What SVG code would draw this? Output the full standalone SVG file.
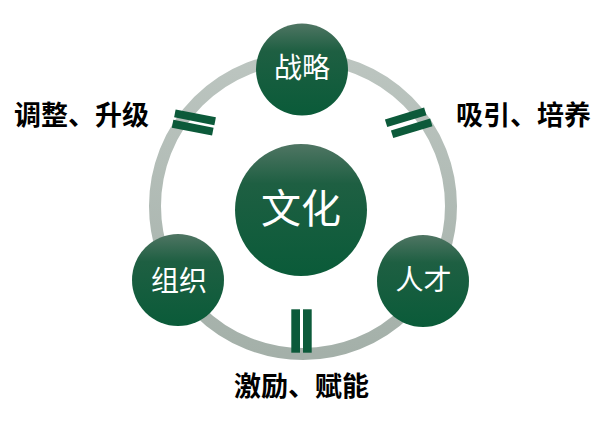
<svg xmlns="http://www.w3.org/2000/svg" width="613" height="422" viewBox="0 0 613 422">
<defs>
<linearGradient id="g" x1="0" y1="0" x2="0" y2="1">
<stop offset="0" stop-color="#4f7563"/>
<stop offset="0.3" stop-color="#1e5f42"/>
<stop offset="1" stop-color="#0a5b39"/>
</linearGradient>
<linearGradient id="ringg" x1="0" y1="0" x2="0" y2="1">
<stop offset="0" stop-color="#bcc5c0"/>
<stop offset="1" stop-color="#a4b0a9"/>
</linearGradient>
<style>
.node{fill:url(#g);}
.in{font-family:"Noto Sans CJK SC","Noto Sans",sans-serif;fill:#ffffff;text-anchor:middle;}
.lbl{font-family:"Noto Sans CJK SC","Noto Sans",sans-serif;fill:#000000;font-size:27px;font-weight:700;}
.bar{fill:#0c5a3a;}
</style>
</defs>
<rect width="613" height="422" fill="#ffffff"/>
<g id="connectors">
<circle cx="303" cy="206" r="148" fill="none" stroke="url(#ringg)" stroke-width="12"/>
<g id="bars-left">
<rect class="bar" x="-20.5" y="-4" width="41" height="8" transform="translate(195,117.3) rotate(11)"/>
<rect class="bar" x="-20.5" y="-4" width="41" height="8" transform="translate(192.7,127.7) rotate(11)"/>
</g>
<g id="bars-right">
<rect class="bar" x="-20.5" y="-4" width="41" height="8" transform="translate(405.7,117.3) rotate(-17)"/>
<rect class="bar" x="-20.5" y="-4" width="41" height="8" transform="translate(411.7,128.3) rotate(-17)"/>
</g>
<g id="bars-bottom">
<rect class="bar" x="291.3" y="309.3" width="8.7" height="43.4"/>
<rect class="bar" x="303" y="309.3" width="8.7" height="43.4"/>
</g>
</g>
<g id="node-culture">
<circle class="node" cx="301" cy="210" r="66"/>
<text class="in" x="301" y="223" font-size="40">文化</text>
</g>
<g id="node-strategy">
<circle class="node" cx="302" cy="69.5" r="46"/>
<text class="in" x="302" y="78" font-size="28">战略</text>
</g>
<g id="node-org">
<circle class="node" cx="178" cy="280" r="46"/>
<text class="in" x="179" y="291" font-size="28">组织</text>
</g>
<g id="node-talent">
<circle class="node" cx="423" cy="281" r="46"/>
<text class="in" x="423.5" y="290" font-size="28">人才</text>
</g>
<g id="labels">
<text class="lbl" x="14" y="124.5">调整、升级</text>
<text class="lbl" x="456" y="124.5">吸引、培养</text>
<text class="lbl" x="234" y="395.5">激励、赋能</text>
</g>
</svg>
